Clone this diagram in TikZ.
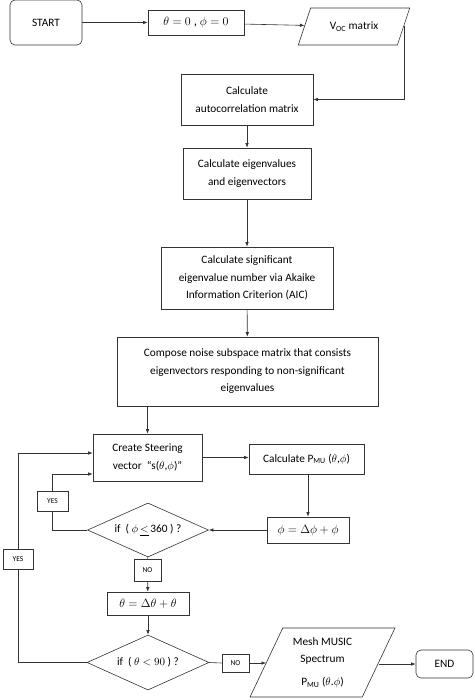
\documentclass[tikz,border=0pt]{standalone}
\usepackage{fontspec}
\setmainfont{Carlito}
\usetikzlibrary{shapes.geometric,arrows.meta}

\tikzset{
caja/.style={rectangle,draw=black!80,line width=0.6pt,fill=white,inner sep=0pt,align=center,font=\fontsize{11.3}{17.5}\selectfont},
terminal/.style={caja,rounded corners=5pt},
formula/.style={caja,font=\fontsize{13}{15}\selectfont},
datos/.style={trapezium,trapezium stretches=true,draw=black!80,line width=0.6pt,fill=white,inner sep=0pt,align=center,font=\fontsize{11.3}{17.5}\selectfont},
decision/.style={diamond,draw=black!80,line width=0.6pt,fill=white,inner sep=0pt,aspect=2.2,font=\fontsize{11.3}{13}\selectfont},
etiqueta/.style={rectangle,draw=black!80,line width=0.6pt,fill=white,inner sep=0pt,font=\fontsize{7.5}{9}\selectfont},
flecha/.style={black!80,line width=0.6pt,-{Latex[length=4.5pt,width=3.5pt]}},
linea/.style={black!80,line width=0.6pt}
}

\begin{document}
\begin{tikzpicture}[x=1pt,y=-1pt]
\useasboundingbox (0,0) rectangle (474,700);

% fila superior
\node[terminal,minimum width=72pt,minimum height=45pt] (inicio) at (46,22.5) {START};
\node[formula,minimum width=96pt,minimum height=25pt] (init) at (196,23) {$\theta = 0$ , $\phi = 0$};
\node[datos,trapezium left angle=54,trapezium right angle=126,minimum width=112pt,minimum height=37pt] (voc) at (354,26.5) {V\textsubscript{OC} matrix};

% cadena central
\node[caja,minimum width=132pt,minimum height=51pt] (autocorr) at (247,99.5) {Calculate\\autocorrelation matrix};
\node[caja,minimum width=128pt,minimum height=51pt] (eigen) at (247,173.5) {Calculate eigenvalues\\and eigenvectors};
\node[caja,minimum width=172pt,minimum height=62pt] (aic) at (247,278) {Calculate significant\\eigenvalue number via Akaike\\Information Criterion (AIC)};
\node[caja,minimum width=261pt,minimum height=69pt] (ruido) at (247.5,371.5) {Compose noise subspace matrix that consists\\eigenvectors responding to non-significant\\eigenvalues};

% bucle
\node[caja,minimum width=109pt,minimum height=47pt] (steer) at (147.5,457.5) {Create Steering\\vector ~``s($\theta$,$\phi$)''};
\node[caja,minimum width=115pt,minimum height=30pt] (pmu) at (306.5,459) {Calculate P\textsubscript{MU} ($\theta$,$\phi$)};
\node[formula,minimum width=82pt,minimum height=26pt] (phiup) at (308,530) {$\phi = \Delta\phi + \phi$};
\node[decision,minimum width=121pt,minimum height=54pt] (dec1) at (148,530) {if ~( $\phi$\,\underline{$<$}\,360 ) ?};
\node[etiqueta,minimum width=31pt,minimum height=20pt] (si1) at (52.5,501) {YES};
\node[etiqueta,minimum width=30pt,minimum height=20pt] (si2) at (18,559) {YES};
\node[etiqueta,minimum width=27pt,minimum height=22pt] (no1) at (147.5,570) {NO};
\node[formula,minimum width=82pt,minimum height=23pt] (thup) at (148,603.5) {$\theta = \Delta\theta + \theta$};
\node[decision,minimum width=122pt,minimum height=55pt] (dec2) at (148,662.5) {if ~( $\theta < 90$ ) ?};
\node[etiqueta,minimum width=27pt,minimum height=18pt] (no2) at (235.5,663) {NO};
\node[datos,trapezium left angle=64,trapezium right angle=116,minimum width=145pt,minimum height=69pt] (mesh) at (322.5,662.5) {Mesh MUSIC\\Spectrum\\[5pt]P\textsubscript{MU} ($\theta$.$\phi$)};
\node[terminal,minimum width=57pt,minimum height=28pt] (fin) at (444.5,664) {END};

% conexiones
\draw[flecha] (inicio.east) -- (inicio.east -| init.west);
\draw[flecha] (init) -- (voc);
\draw[flecha] (voc.east) |- (autocorr.east);
\draw[flecha] (autocorr) -- (eigen);
\draw[flecha] (eigen) -- (aic);
\draw[flecha] (aic) -- (ruido);
\draw[flecha] (steer.north |- ruido.south) -- (steer.north);
\draw[flecha] (steer.east) -- (steer.east -| pmu.west);
\draw[flecha] (pmu.south -| phiup) -- (phiup.north);
\draw[flecha] (phiup) -- (dec1);
\draw[linea] (dec1.west) -| (si1.south);
\draw[flecha] (si1.north) |- ([yshift=-16.5pt]steer.west);
\draw[linea] (dec1.south) -- (no1.north);
\draw[flecha] (no1) -- (thup);
\draw[flecha] (thup) -- (dec2);
\draw[linea] (dec2.west) -| (si2.south);
\draw[flecha] (si2.north) |- ([yshift=4.5pt]steer.west);
\draw[linea] (dec2.east) -- (no2.west);
\draw[flecha] (no2.east) -- (no2.east -| mesh.west);
\draw[flecha] (mesh.east |- fin.west) -- (fin.west);
\end{tikzpicture}
\end{document}
